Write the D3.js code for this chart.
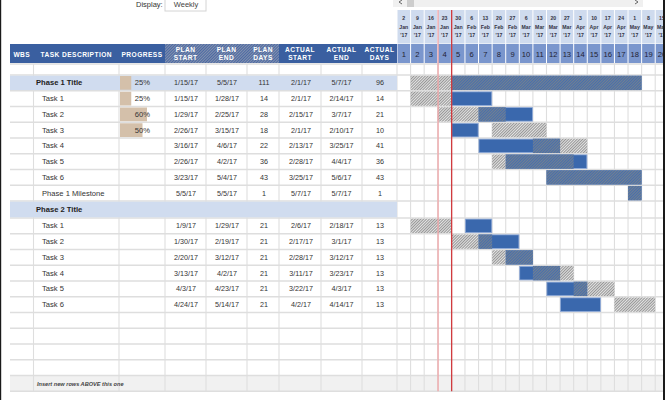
<!DOCTYPE html>
<meta charset="utf-8">
<body>
<script src="https://cdn.jsdelivr.net/npm/d3@7"></script>
<style>
    html, body {
        margin: 0;
        background: #fff;
    }
    svg { display: block; }
    text { font-family: "Liberation Sans", sans-serif; }
</style>
<script>
// table columns, one entry per row
var names = ["Phase 1 Title", "Task 1", "Task 2", "Task 3", "Task 4", "Task 5", "Task 6", "Phase 1 Milestone",
    "Phase 2 Title", "Task 1", "Task 2", "Task 3", "Task 4", "Task 5", "Task 6"];
var progress = [25, 25, 60, 50, null, null, null, null, null, null, null, null, null, null, null];
var planStart = ["1/15/17", "1/15/17", "1/29/17", "2/26/17", "3/16/17", "2/26/17", "3/23/17", "5/5/17",
    null, "1/9/17", "1/30/17", "2/20/17", "3/13/17", "4/3/17", "4/24/17"];
var planEnd = ["5/5/17", "1/28/17", "2/25/17", "3/15/17", "4/6/17", "4/2/17", "5/4/17", "5/5/17",
    null, "1/29/17", "2/19/17", "3/12/17", "4/2/17", "4/23/17", "5/14/17"];
var planDays = [111, 14, 28, 18, 22, 36, 43, 1, null, 21, 21, 21, 21, 21, 21];
var actualStart = ["2/1/17", "2/1/17", "2/15/17", "2/1/17", "2/13/17", "2/28/17", "3/25/17", "5/7/17",
    null, "2/6/17", "2/17/17", "2/28/17", "3/11/17", "3/22/17", "4/2/17"];
var actualEnd = ["5/7/17", "2/14/17", "3/7/17", "2/10/17", "3/25/17", "4/4/17", "5/6/17", "5/7/17",
    null, "2/18/17", "3/1/17", "3/12/17", "3/23/17", "4/3/17", "4/14/17"];
var actualDays = [96, 14, 21, 10, 41, 36, 43, 1, null, 13, 13, 13, 13, 13, 13];
var headers = [["WBS"], ["TASK DESCRIPTION"], ["PROGRESS"], ["PLAN", "START"], ["PLAN", "END"], ["PLAN", "DAYS"],
    ["ACTUAL", "START"], ["ACTUAL", "END"], ["ACTUAL", "DAYS"]];
var footerNote = "Insert new rows ABOVE this one";
var todayLines = ["1/23/17", "1/30/17"];

var width = 665, height = 400,
    edges = [10, 33.5, 119, 165, 206, 247, 279, 321, 362, 397],
    headTop = 44, headBottom = 64, firstRow = 75, sheetRight = 663, bottom = 391.3,
    weekW = 13.59, weekCount = 20;

var parse = d3.utcParse("%m/%d/%y"),
    firstWeek = new Date(Date.UTC(2017, 0, 2)),
    weeks = d3.utcMonday.range(firstWeek, d3.utcMonday.offset(firstWeek, weekCount));

var x = d3.scaleUtc()
    .domain([firstWeek, d3.utcMonday.offset(firstWeek, weekCount)])
    .range([397, 397 + weekW * weekCount]);

// row 9 is the taller "Phase 2" row end, rows run down to the footer
var y = d3.scaleLinear().domain([0, 8, 9, 20]).range([firstRow, 201, 218, bottom]);
var progressW = d3.scaleLinear().domain([0, 100]).range([0, 45]);

var svg = d3.select("body").append("svg")
    .attr("width", width)
    .attr("height", height);

var defs = svg.append("defs");
function hatch(id, bg, fg) {
    var p = defs.append("pattern").attr("id", id)
        .attr("width", 2).attr("height", 2)
        .attr("patternUnits", "userSpaceOnUse")
        .attr("patternTransform", "rotate(-45)");
    p.append("rect").attr("width", 2).attr("height", 2).attr("fill", bg);
    p.append("rect").attr("width", 2).attr("height", 1).attr("fill", fg);
}
hatch("planHatch", "#e4e4e4", "#969696");
hatch("bothHatch", "#466fae", "#74808f");
hatch("headHatch", "#4a68a4", "#8492ad");

var gridColor = "#dedede", rows = d3.range(names.length);

// top controls
svg.append("text").text("Display:").attr("x", 136).attr("y", 7).attr("font-size", 7.5).attr("fill", "#333");
svg.append("rect").attr("x", 165).attr("y", -2).attr("width", 41).attr("height", 13)
    .attr("fill", "#fff").attr("stroke", "#d4d4d4");
svg.append("text").text("Weekly").attr("x", 186).attr("y", 7).attr("text-anchor", "middle")
    .attr("font-size", 7.5).attr("fill", "#444");

svg.append("rect").attr("x", 393).attr("y", 0).attr("width", 250).attr("height", 7).attr("fill", "#f0f0f0");
svg.append("rect").attr("x", 407).attr("y", 0).attr("width", 7).attr("height", 7).attr("fill", "#cdcdcd");
svg.append("path").attr("d", "M402,0L399,2L402,4M635,0L638,2L635,4").attr("fill", "none").attr("stroke", "#666");

// footer and phase bands
svg.append("rect").attr("x", edges[0]).attr("y", y(19)).attr("width", sheetRight - edges[0])
    .attr("height", bottom - y(19)).attr("fill", "#f1f1f1");

// grid
var hLines = [headBottom].concat(d3.range(21).map(function(i) { return y(i); }));
svg.append("g").selectAll("line").data(hLines).enter().append("line")
    .attr("x1", edges[0]).attr("x2", sheetRight)
    .attr("y1", function(d) { return d; }).attr("y2", function(d) { return d; })
    .attr("stroke", gridColor).attr("stroke-width", 1.4);

var vLines = edges.slice(1, 9).concat(weeks.slice(0, weekCount).map(function(d) { return x(d); }));
svg.append("g").selectAll("line").data(vLines).enter().append("line")
    .attr("x1", function(d) { return d; }).attr("x2", function(d) { return d; })
    .attr("y1", headBottom).attr("y2", bottom)
    .attr("stroke", gridColor).attr("stroke-width", 1.1);

svg.append("g").selectAll("rect").data([0, 8]).enter().append("rect")
    .attr("x", edges[0]).attr("width", 397 - edges[0])
    .attr("y", function(d) { return y(d) + 0.7; })
    .attr("height", function(d) { return y(d + 1) - y(d) - 1.4; })
    .attr("fill", "#d0dcef");

// table header
svg.append("rect").attr("x", edges[0]).attr("y", headTop).attr("width", 387).attr("height", headBottom - headTop - 1)
    .attr("fill", "#3a5fa0");
svg.append("rect").attr("x", edges[3]).attr("y", headTop).attr("width", edges[6] - edges[3]).attr("height", headBottom - headTop - 1)
    .attr("fill", "url(#headHatch)");

var head = svg.append("g").selectAll("text").data(headers).enter().append("text")
    .attr("text-anchor", "middle")
    .attr("font-size", 6.6).attr("font-weight", "bold").attr("letter-spacing", 0.45).attr("fill", "#fff");
head.each(function(d, i) {
    var cx = (edges[i] + edges[i + 1]) / 2;
    d.forEach(function(line, k) {
        d3.select(this).append("tspan").text(line).attr("x", cx)
            .attr("y", d.length > 1 ? 52 + k * 8 : 56.5);
    }, this);
});

// progress bars
svg.append("g").selectAll("rect").data(rows.filter(function(i) { return progress[i] != null; })).enter().append("rect")
    .attr("x", edges[2] + 1)
    .attr("y", function(i) { return y(i) + 1; })
    .attr("width", function(i) { return progressW(progress[i]); })
    .attr("height", function(i) { return y(i + 1) - y(i) - 2; })
    .attr("fill", "#d4c0aa");

// table text
function isPhase(i) { return i == 0 || i == 8; }
function rowMid(i) { return (y(i) + y(i + 1)) / 2 + 2.6; }

svg.append("g").selectAll("text").data(rows).enter().append("text")
    .text(function(i) { return names[i]; })
    .attr("x", function(i) { return isPhase(i) ? 36 : 42; })
    .attr("y", rowMid)
    .attr("font-size", 7.6)
    .attr("font-weight", function(i) { return isPhase(i) ? "bold" : null; })
    .attr("fill", function(i) { return isPhase(i) ? "#222" : "#333"; });

svg.append("g").selectAll("text").data(rows.filter(function(i) { return progress[i] != null; })).enter().append("text")
    .text(function(i) { return progress[i] + "%"; })
    .attr("x", 150).attr("y", rowMid).attr("text-anchor", "end")
    .attr("font-size", 7.6).attr("fill", "#333");

[[planStart, 186], [planEnd, 227], [planDays, 264], [actualStart, 301], [actualEnd, 341.5], [actualDays, 380]].forEach(function(c) {
    svg.append("g").selectAll("text").data(rows.filter(function(i) { return c[0][i] != null; })).enter().append("text")
        .text(function(i) { return c[0][i]; })
        .attr("x", c[1]).attr("y", rowMid).attr("text-anchor", "middle")
        .attr("font-size", 7.2).attr("fill", "#333");
});

svg.append("text").text(footerNote).attr("x", 37).attr("y", y(19) + 10)
    .attr("font-size", 5.6).attr("font-style", "italic").attr("font-weight", "bold").attr("fill", "#444");

// week header cells
var weekHead = svg.append("g").selectAll("g").data(weeks).enter().append("g")
    .attr("transform", function(d) { return "translate(" + x(d) + ",0)"; });
weekHead.append("rect").attr("x", 0.5).attr("y", 10).attr("width", weekW - 1).attr("height", 33.5).attr("fill", "#cfdbee");
weekHead.append("rect").attr("x", 0.5).attr("y", headTop).attr("width", weekW - 1).attr("height", headBottom - headTop - 1).attr("fill", "#7a96cd");
[[d3.utcFormat("%-d"), 20], [d3.utcFormat("%b"), 28.5], [d3.utcFormat("'%y"), 37]].forEach(function(f) {
    weekHead.append("text").text(function(d) { return f[0](d); })
        .attr("x", weekW / 2).attr("y", f[1]).attr("text-anchor", "middle")
        .attr("font-size", 5.2).attr("font-weight", "bold").attr("fill", "#334");
});
weekHead.append("text").text(function(d, i) { return i + 1; })
    .attr("x", weekW / 2).attr("y", 57).attr("text-anchor", "middle")
    .attr("font-size", 7.6).attr("fill", "#223");

// gantt bars snap to whole weeks
function weekFrom(s) { return x(d3.utcMonday.floor(parse(s))); }
function weekTo(s) { return x(d3.utcMonday.offset(d3.utcMonday.floor(parse(s)), 1)); }

var bars = rows.filter(function(i) { return planStart[i] != null; });

svg.append("g").selectAll("rect").data(bars).enter().append("rect")
    .attr("x", function(i) { return weekFrom(planStart[i]); })
    .attr("width", function(i) { return weekTo(planEnd[i]) - weekFrom(planStart[i]); })
    .attr("y", function(i) { return y(i) + 0.7; })
    .attr("height", function(i) { return y(i + 1) - y(i) - 1.4; })
    .attr("fill", "url(#planHatch)");

svg.append("g").selectAll("rect").data(bars).enter().append("rect")
    .attr("x", function(i) { return weekFrom(actualStart[i]) + 0.4; })
    .attr("width", function(i) { return weekTo(actualEnd[i]) - weekFrom(actualStart[i]) - 0.8; })
    .attr("y", function(i) { return y(i) + 1.1; })
    .attr("height", function(i) { return y(i + 1) - y(i) - 2.2; })
    .attr("fill", "#3a68ad").attr("stroke", "#8da8d6").attr("stroke-width", 0.8);

// where plan and actual overlap
svg.append("g").selectAll("rect").data(bars.filter(function(i) {
        return weekFrom(planStart[i]) < weekTo(actualEnd[i]) && weekFrom(actualStart[i]) < weekTo(planEnd[i]);
    })).enter().append("rect")
    .attr("x", function(i) { return Math.max(weekFrom(planStart[i]), weekFrom(actualStart[i])); })
    .attr("width", function(i) {
        return Math.min(weekTo(planEnd[i]), weekTo(actualEnd[i])) - Math.max(weekFrom(planStart[i]), weekFrom(actualStart[i]));
    })
    .attr("y", function(i) { return y(i) + 0.7; })
    .attr("height", function(i) { return y(i + 1) - y(i) - 1.4; })
    .attr("fill", "url(#bothHatch)");

// today markers
svg.append("g").selectAll("line").data(todayLines).enter().append("line")
    .attr("x1", function(d) { return x(parse(d)) + 0.3; }).attr("x2", function(d) { return x(parse(d)) + 0.3; })
    .attr("y1", 10).attr("y2", bottom)
    .attr("stroke", function(d, i) { return i ? "#d03a3e" : "#f0a4a6"; }).attr("stroke-width", 1.3);

// window edges of the screenshot
svg.append("rect").attr("x", 663).attr("y", 0).attr("width", 2).attr("height", height).attr("fill", "#1a1a1a");
svg.append("rect").attr("x", 0).attr("y", 0).attr("width", 1.2).attr("height", height).attr("fill", "#1a1a1a");
</script>
